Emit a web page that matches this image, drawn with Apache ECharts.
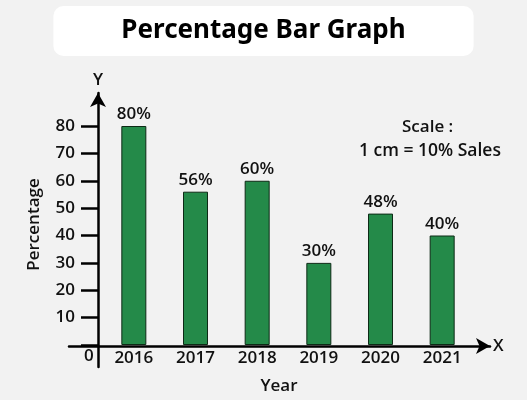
<!DOCTYPE html>
<html>
<head>
<meta charset="utf-8">
<script src="https://cdn.jsdelivr.net/npm/echarts@6/dist/echarts.min.js"></script>
<style>
  html, body { margin: 0; padding: 0; background: #f2f2f2; }
  #main { width: 527px; height: 400px; }
</style>
</head>
<body>
<div id="main"></div>
<script>
var years = ['2016', '2017', '2018', '2019', '2020', '2021'];
var percents = [80, 56, 60, 30, 48, 40];
var yTicks = { min: 0, max: 80, step: 10 };

var font = 'Open Sans';
var ink = '#111';
var txt = { fontFamily: font, fontSize: 17, fontWeight: 600, color: ink };

var myChart = echarts.init(document.getElementById('main'));

var option = {
    backgroundColor: '#f2f2f2',
    title: {
        text: 'Percentage Bar Graph',
        left: 'center',
        top: 6,
        padding: [12, 68, 12, 68],
        backgroundColor: '#fff',
        borderRadius: 10,
        textStyle: { fontFamily: 'Noto Sans', fontSize: 26, fontWeight: 'bold', color: '#000' }
    },
    grid: [
        // bars
        { left: 103, right: 54, top: 126, bottom: 54 },
        // x axis line with arrow
        { left: 69, right: 37, top: 126, bottom: 54 },
        // y axis line with arrow
        { left: 98, right: 37, top: 93, bottom: 33 }
    ],
    xAxis: [{
        type: 'category',
        gridIndex: 0,
        data: years,
        axisLine: { show: false },
        axisTick: { show: false },
        axisLabel: Object.assign({ margin: 5 }, txt),
        name: 'Year',
        nameLocation: 'middle',
        nameGap: 33,
        nameTextStyle: Object.assign({ padding: [0, 18, 0, 0] }, txt)
    }, {
        type: 'value',
        gridIndex: 1,
        axisLine: { show: true, lineStyle: { color: '#000', width: 2.5 }, symbol: ['none', 'arrow'], symbolSize: [12, 14] },
        axisTick: { show: false },
        axisLabel: { show: false },
        splitLine: { show: false },
        name: 'X',
        nameGap: 3,
        nameTextStyle: txt
    }, {
        type: 'value',
        gridIndex: 2,
        show: false
    }],
    yAxis: [{
        type: 'value',
        gridIndex: 0,
        min: yTicks.min,
        max: yTicks.max,
        interval: yTicks.step,
        offset: 5,
        axisLine: { show: false },
        axisTick: { show: true, length: 17, lineStyle: { color: '#000', width: 2.5 } },
        axisLabel: Object.assign({
            margin: 23,
            formatter: function (v) { return v === 0 ? '' : v; }
        }, txt),
        splitLine: { show: false },
        name: 'Percentage',
        nameLocation: 'middle',
        nameGap: 55,
        nameTextStyle: Object.assign({ padding: [0, 0, 0, 22] }, txt)
    }, {
        type: 'value',
        gridIndex: 1,
        show: false
    }, {
        type: 'value',
        gridIndex: 2,
        axisLine: { show: true, lineStyle: { color: '#000', width: 2.5 }, symbol: ['none', 'arrow'], symbolSize: [12, 14] },
        axisTick: { show: false },
        axisLabel: { show: false },
        splitLine: { show: false },
        name: 'Y',
        nameGap: 4,
        nameTextStyle: txt
    }],
    graphic: [{
        type: 'text',
        left: 84, top: 348,
        style: { text: '0', font: '600 17px "Open Sans"', fill: ink }
    }, {
        type: 'text',
        left: 402, top: 119,
        style: { text: 'Scale :', font: '600 17px "Open Sans"', fill: ink }
    }, {
        type: 'text',
        left: 359, top: 142,
        style: { text: '1 cm = 10% Sales', font: '600 17.5px "Open Sans"', fill: ink }
    }],
    series: [{
        type: 'bar',
        xAxisIndex: 0,
        yAxisIndex: 0,
        data: percents,
        barWidth: 25,
        itemStyle: { color: '#248a49', borderColor: '#0d2a16', borderWidth: 1 },
        label: Object.assign({
            show: true,
            position: 'top',
            distance: 3,
            formatter: '{c}%'
        }, txt)
    }]
};

myChart.setOption(option);
</script>
</body>
</html>
